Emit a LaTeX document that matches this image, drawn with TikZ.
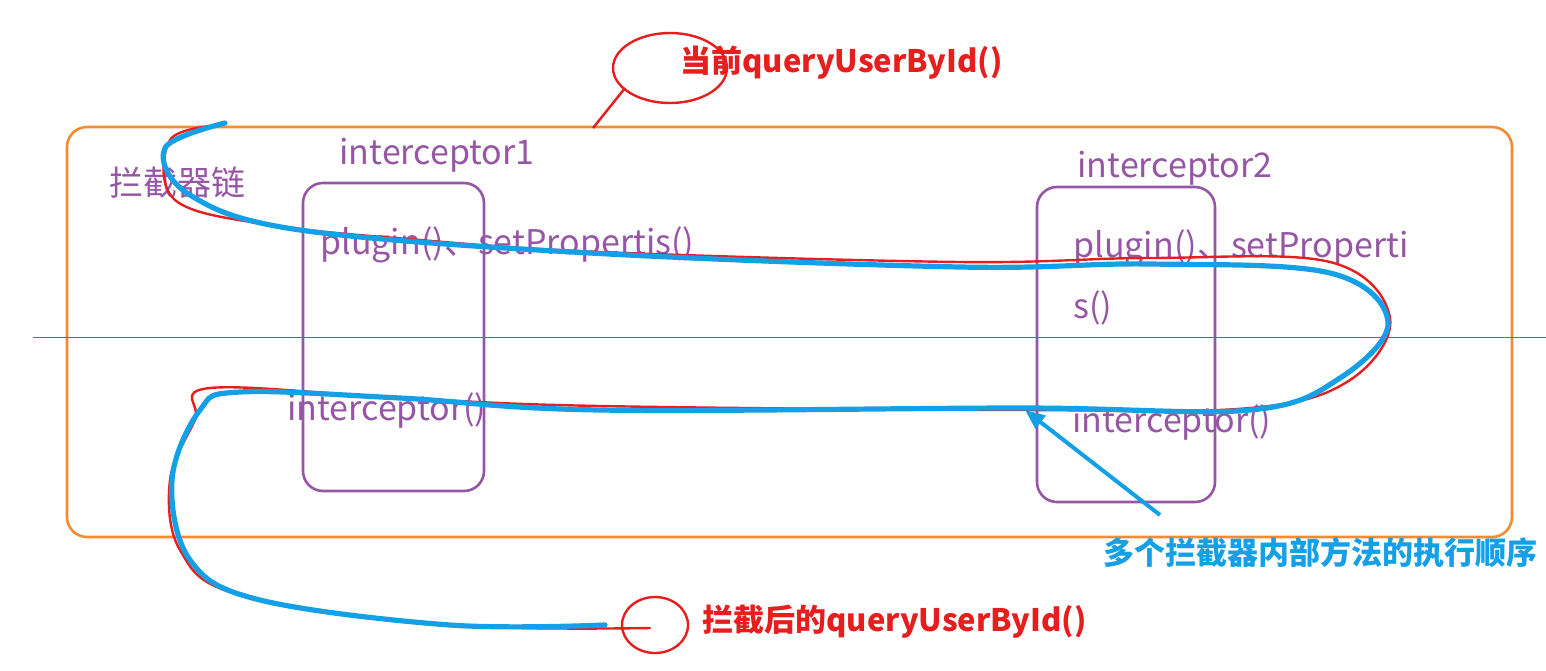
\documentclass[tikz,border=0pt]{standalone}
\usepackage{fontspec}
\setmainfont{Noto Sans CJK SC}
\usetikzlibrary{arrows.meta}
\definecolor{org}{RGB}{245,140,50}
\definecolor{pur}{RGB}{150,85,165}
\definecolor{blu}{RGB}{20,160,230}
\definecolor{rd}{RGB}{230,30,30}
\begin{document}
\begin{tikzpicture}[x=0.5pt,y=-0.5pt,
  box/.style={draw=pur,line width=1.3pt,rounded corners=10pt},
  ptxt/.style={text=pur,font=\fontsize{17}{17}\selectfont,inner sep=0},
  rtxt/.style={text=rd,font=\bfseries\fontsize{15.5}{15.5}\selectfont,inner sep=0},
  stroke/.style={line width=2.6pt,blu,line cap=round,line join=round}]
\useasboundingbox (0,0) rectangle (1546,670);
\draw[org,line width=1.3pt,rounded corners=10pt] (67,127) rectangle (1512,537);
\draw[pur!80!red,line width=0.5pt] (33,337) -- (1546,337);
\node[box,minimum width=90.5pt,minimum height=154pt] (b1) at (393.5,337) {};
\node[box,minimum width=89pt,minimum height=157.5pt] (b2) at (1126,344.5) {};
\node[ptxt] (l1) at (437,155) {interceptor1};
\node[ptxt,anchor=west] (p1) at (320,245) {plugin()、setPropertis()};
\node[ptxt,anchor=west] (i1) at (287,410) {interceptor()};
\node[ptxt] (l2) at (1175,168) {interceptor2};
\node[ptxt,anchor=west] (p2) at (1073,248) {plugin()、setProperti};
\node[ptxt,anchor=west] (s2) at (1073,308) {s()};
\node[ptxt,anchor=west] (i2) at (1072,422) {interceptor()};
\node[ptxt] (chain) at (177,183) {拦截器链};
\draw[rd,line width=1.2pt] (670,68) ellipse [x radius=57,y radius=35];
\draw[rd,line width=1.2pt] (655,625) ellipse [x radius=33,y radius=28];
\coordinate (e1) at (625,88);
\coordinate (bt) at (593,128);
\draw[rd,line width=1.2pt] (bt) -- (e1);
\node[rtxt,anchor=west] (t1) at (680,63) {当前queryUserById()};
\node[rtxt,anchor=west] (t2) at (702,622) {拦截后的queryUserById()};
\node[text=blu,font=\bfseries\fontsize{15.5}{15.5}\selectfont,inner sep=0,anchor=west] (t3) at (1103,553) {多个拦截器内部方法的执行顺序};
\coordinate (as) at (1160,515);
\coordinate (ae) at (1025,410);
\draw[blu,line width=2pt,-{Triangle[length=10pt,width=8pt]}] (as) -- (ae);
\draw[rd,line width=1.2pt,line cap=round] plot[smooth,tension=0.6] coordinates {(220,125) (170,140) (175,200) (270,225) (420,240) (600,252) (960,262) (1150,258) (1330,262) (1390,318) (1350,380) (1250,408) (1020,410) (600,406) (400,398) (210,388) (195,420) (170,480) (180,550) (240,595) (450,625) (650,628)};
\draw[stroke] plot[smooth,tension=0.6] coordinates {(225,123) (165,148) (190,195) (300,230) (590,253) (960,267) (1150,264) (1330,273) (1388,322) (1340,378) (1250,410) (1020,408) (600,410) (400,398) (240,392) (200,410) (172,480) (190,560) (260,600) (450,625) (605,625)};
\end{tikzpicture}
\end{document}
